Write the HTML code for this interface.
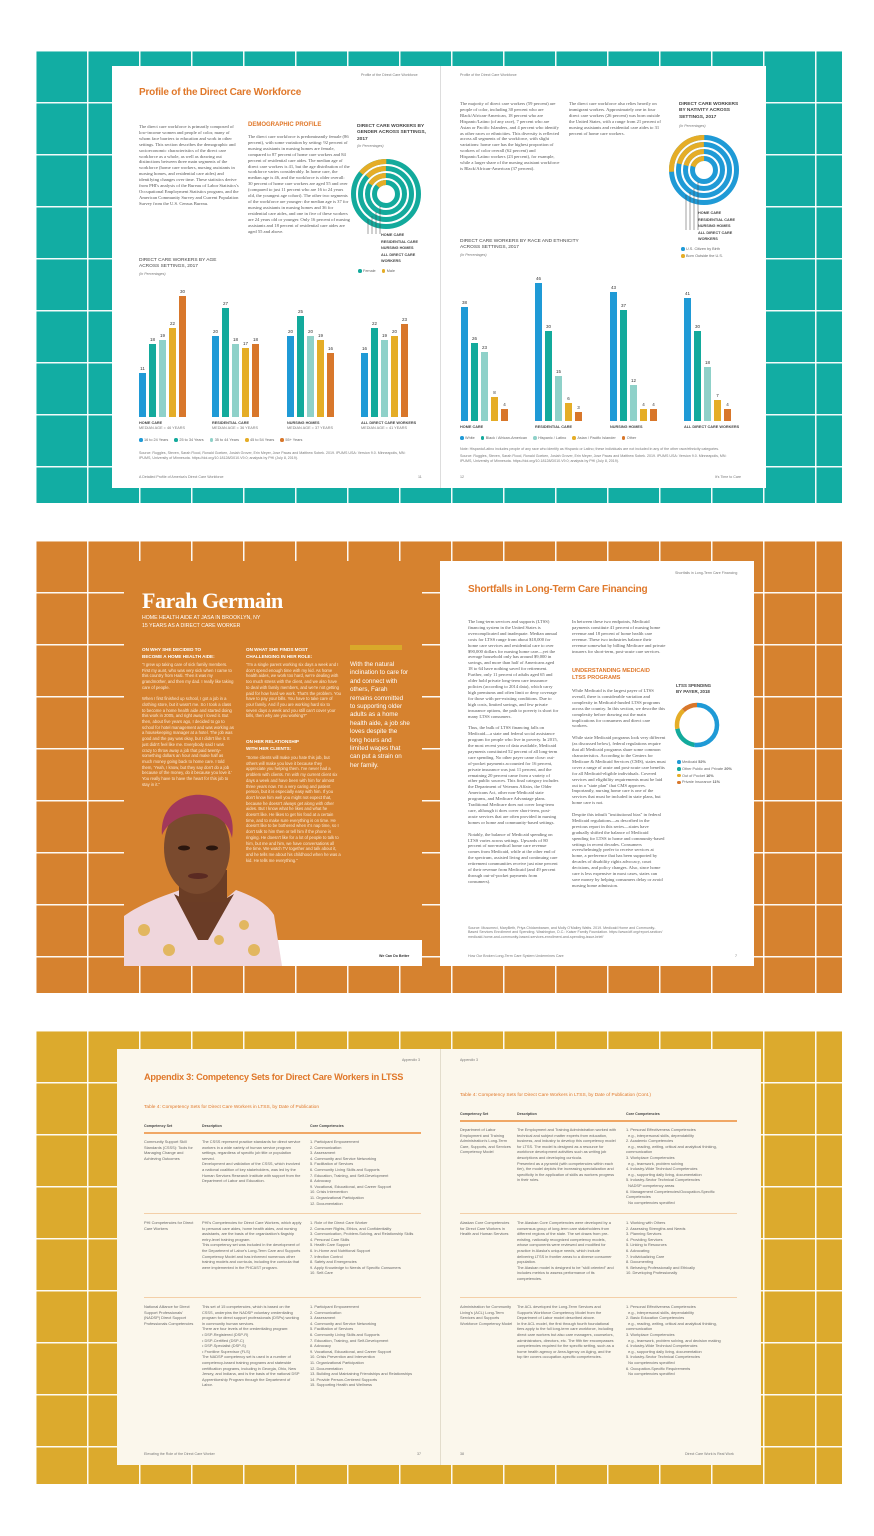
<!DOCTYPE html>
<html><head><meta charset="utf-8">
<style>
*{margin:0;padding:0;box-sizing:border-box}
body{width:874px;height:1536px;background:#fff;position:relative;overflow:hidden;font-family:"Liberation Sans",sans-serif}
.a{position:absolute}
.grid{position:absolute;background-image:linear-gradient(to right,rgba(255,255,255,.95) 0 1.5px,transparent 1.5px),linear-gradient(to bottom,rgba(255,255,255,.95) 0 1.5px,transparent 1.5px);background-size:52px 52px;background-position:-1px -1px}
.t{position:absolute;font:4.6px/5.9px "Liberation Serif",serif;color:#555;overflow:hidden;text-align:left}
.s{position:absolute;font:4.2px/5.9px "Liberation Sans",sans-serif;color:#666;overflow:hidden}
.p3 .s{font-size:3.9px;line-height:5.6px}
.w{color:#fbe9d6}
.h{position:absolute;font:bold 4.8px/6.4px "Liberation Sans",sans-serif;color:#444;text-transform:uppercase}
.tiny{position:absolute;font:3.6px/4px "Liberation Sans",sans-serif;color:#777;white-space:nowrap}
.ttl{position:absolute;font:bold 10px/12px "Liberation Sans",sans-serif;color:#e0782a;white-space:nowrap;letter-spacing:-.2px}
.b{position:absolute;width:7px}
.b i{position:absolute;top:-7px;left:-2px;width:11px;text-align:center;font:4.5px/5px "Liberation Sans",sans-serif;color:#333;font-style:normal}
.c1{background:#1f9ad6}.c2{background:#13aa9c}.c3{background:#8fd1c9}.c4{background:#e5ad27}.c5{background:#d8772b}
.lg{position:absolute;font:3.8px/5px "Liberation Sans",sans-serif;color:#666;white-space:nowrap}
.lg b{display:inline-block;width:3.5px;height:3.5px;border-radius:50%;margin:0 1.5px 0 5px;vertical-align:middle}
.gl{position:absolute;font:bold 3.8px/5px "Liberation Sans",sans-serif;color:#444;white-space:nowrap}
.gl span{font-weight:normal;display:block;color:#777}
.rule{position:absolute;height:2px;background:#f0a765}
.sep{position:absolute;height:1px;background:#f3cfa8}
</style></head><body>

<!-- PANEL 1 teal -->
<div class="grid" style="left:36px;top:51px;width:806px;height:452px;background-color:#12ada3"></div>
<div class="a" style="left:112px;top:66px;width:654px;height:422px;background:#fff"></div>
<div class="a" style="left:440px;top:66px;width:1px;height:422px;background:#ddd"></div>

<div class="tiny" style="left:361px;top:73px">Profile of the Direct Care Workforce</div>
<div class="tiny" style="left:460px;top:73px">Profile of the Direct Care Workforce</div>
<div class="ttl" style="left:139px;top:87px">Profile of the Direct Care Workforce</div>

<div class="t" style="left:139px;top:124px;width:100px;height:110px">The direct care workforce is primarily composed of low-income women and people of color, many of whom face barriers to education and work in other settings. This section describes the demographic and socioeconomic characteristics of the direct care workforce as a whole, as well as drawing out distinctions between three main segments of the workforce (home care workers, nursing assistants in nursing homes, and residential care aides) and identifying changes over time. These statistics derive from PHI's analysis of the Bureau of Labor Statistics's Occupational Employment Statistics program, and the American Community Survey and Current Population Survey from the U.S. Census Bureau.</div>
<div class="a" style="left:248px;top:122px;font:bold 6px/7px 'Liberation Sans',sans-serif;color:#e0782a">DEMOGRAPHIC PROFILE</div>
<div class="t" style="left:248px;top:134px;width:102px;height:135px">The direct care workforce is predominantly female (86 percent), with some variation by setting: 92 percent of nursing assistants in nursing homes are female, compared to 87 percent of home care workers and 84 percent of residential care aides. The median age of direct care workers is 41, but the age distribution of the workforce varies considerably. In home care, the median age is 46, and the workforce is older overall: 30 percent of home care workers are aged 55 and over (compared to just 11 percent who are 16 to 24 years old, the youngest age cohort). The other two segments of the workforce are younger: the median age is 37 for nursing assistants in nursing homes and 36 for residential care aides, and one in five of these workers are 24 years old or younger. Only 16 percent of nursing assistants and 18 percent of residential care aides are aged 55 and above.</div>
<div class="h" style="left:357px;top:124px;width:70px">Direct care workers by gender across settings, 2017</div>
<div class="tiny" style="left:357px;top:144px;font-style:italic">(In Percentages)</div>
<svg class="a" style="left:346px;top:154px" width="80" height="80" viewBox="0 0 80 80">
<g fill="none" stroke-width="5">
<circle cx="40" cy="40" r="32.5" stroke="#13aa9c"/><circle cx="40" cy="40" r="32.5" stroke="#e5ad27" stroke-dasharray="28.6 300" transform="rotate(-140 40 40)"/>
<circle cx="40" cy="40" r="25.5" stroke="#13aa9c"/><circle cx="40" cy="40" r="25.5" stroke="#e5ad27" stroke-dasharray="20.8 300" transform="rotate(-137 40 40)"/>
<circle cx="40" cy="40" r="18.5" stroke="#13aa9c"/><circle cx="40" cy="40" r="18.5" stroke="#e5ad27" stroke-dasharray="18.6 300" transform="rotate(-148 40 40)"/>
<circle cx="40" cy="40" r="11.5" stroke="#13aa9c"/><circle cx="40" cy="40" r="11.5" stroke="#e5ad27" stroke-dasharray="9.4 300" transform="rotate(-137 40 40)"/>
</g>
<g stroke="#444" stroke-width=".5" fill="none"><path d="M22 65V80M26 62V80M30 58V80M34 52V80"/></g>
</svg>
<div class="gl" style="left:381px;top:232px;line-height:6.5px">HOME CARE<br>RESIDENTIAL CARE<br>NURSING HOMES<br>ALL DIRECT CARE<br>WORKERS</div>
<div class="lg" style="left:353px;top:269px"><b class="c2"></b>Female <b class="c4"></b>Male</div>

<div class="h" style="left:139px;top:258px;font-weight:normal">Direct care workers by age<br>across settings, 2017</div>
<div class="tiny" style="left:139px;top:272px;font-style:italic">(In Percentages)</div>

<div class="b c1" style="left:139px;top:373px;height:44px"><i>11</i></div>
<div class="b c2" style="left:149px;top:344px;height:73px"><i>18</i></div>
<div class="b c3" style="left:159px;top:340px;height:77px"><i>19</i></div>
<div class="b c4" style="left:169px;top:328px;height:89px"><i>22</i></div>
<div class="b c5" style="left:179px;top:296px;height:121px"><i>30</i></div>
<div class="b c1" style="left:212px;top:336px;height:81px"><i>20</i></div>
<div class="b c2" style="left:222px;top:308px;height:109px"><i>27</i></div>
<div class="b c3" style="left:232px;top:344px;height:73px"><i>18</i></div>
<div class="b c4" style="left:242px;top:348px;height:69px"><i>17</i></div>
<div class="b c5" style="left:252px;top:344px;height:73px"><i>18</i></div>
<div class="b c1" style="left:287px;top:336px;height:81px"><i>20</i></div>
<div class="b c2" style="left:297px;top:316px;height:101px"><i>25</i></div>
<div class="b c3" style="left:307px;top:336px;height:81px"><i>20</i></div>
<div class="b c4" style="left:317px;top:340px;height:77px"><i>19</i></div>
<div class="b c5" style="left:327px;top:353px;height:64px"><i>16</i></div>
<div class="b c1" style="left:361px;top:353px;height:64px"><i>16</i></div>
<div class="b c2" style="left:371px;top:328px;height:89px"><i>22</i></div>
<div class="b c3" style="left:381px;top:340px;height:77px"><i>19</i></div>
<div class="b c4" style="left:391px;top:336px;height:81px"><i>20</i></div>
<div class="b c5" style="left:401px;top:324px;height:93px"><i>23</i></div>
<div class="gl" style="left:139px;top:421px">HOME CARE<span>MEDIAN AGE = 46 YEARS</span></div>
<div class="gl" style="left:212px;top:421px">RESIDENTIAL CARE<span>MEDIAN AGE = 36 YEARS</span></div>
<div class="gl" style="left:287px;top:421px">NURSING HOMES<span>MEDIAN AGE = 37 YEARS</span></div>
<div class="gl" style="left:361px;top:421px">ALL DIRECT CARE WORKERS<span>MEDIAN AGE = 41 YEARS</span></div>
<div class="lg" style="left:134px;top:438px"><b class="c1"></b>16 to 24 Years <b class="c2"></b>25 to 34 Years <b class="c3"></b>35 to 44 Years <b class="c4"></b>45 to 54 Years <b class="c5"></b>55+ Years</div>
<div class="tiny" style="left:139px;top:451px;line-height:4.6px">Source: Ruggles, Steven, Sarah Flood, Ronald Goeken, Josiah Grover, Erin Meyer, Jose Pacas and Matthew Sobek. 2019. IPUMS USA: Version 9.0. Minneapolis, MN:<br>IPUMS, University of Minnesota. https://doi.org/10.18128/D010.V9.0; analysis by PHI (July 8, 2019).</div>
<div class="tiny" style="left:139px;top:475px">A Detailed Profile of America's Direct Care Workforce</div>
<div class="tiny" style="left:418px;top:475px">11</div>

<div class="t" style="left:460px;top:101px;width:100px;height:88px">The majority of direct care workers (59 percent) are people of color, including 30 percent who are Black/African-American, 18 percent who are Hispanic/Latino (of any race), 7 percent who are Asian or Pacific Islanders, and 4 percent who identify as other races or ethnicities. This diversity is reflected across all segments of the workforce, with slight variations: home care has the highest proportion of workers of color overall (62 percent) and Hispanic/Latino workers (23 percent), for example, while a larger share of the nursing assistant workforce is Black/African-American (37 percent).</div>
<div class="t" style="left:569px;top:101px;width:92px;height:48px">The direct care workforce also relies heavily on immigrant workers. Approximately one in four direct care workers (26 percent) was born outside the United States, with a range from 21 percent of nursing assistants and residential care aides to 31 percent of home care workers.</div>
<div class="h" style="left:679px;top:102px;width:65px">Direct care workers by nativity across settings, 2017</div>
<div class="tiny" style="left:679px;top:124px;font-style:italic">(In Percentages)</div>
<svg class="a" style="left:664px;top:130px" width="80" height="100" viewBox="0 0 80 100">
<g fill="none" stroke-width="5">
<circle cx="40" cy="40" r="32.5" stroke="#1f9ad6"/><circle cx="40" cy="40" r="32.5" stroke="#e5ad27" stroke-dasharray="53 300" transform="rotate(-183 40 40)"/>
<circle cx="40" cy="40" r="25.5" stroke="#1f9ad6"/><circle cx="40" cy="40" r="25.5" stroke="#e5ad27" stroke-dasharray="33.6 300" transform="rotate(-166 40 40)"/>
<circle cx="40" cy="40" r="18.5" stroke="#1f9ad6"/><circle cx="40" cy="40" r="18.5" stroke="#e5ad27" stroke-dasharray="24.4 300" transform="rotate(-166 40 40)"/>
<circle cx="40" cy="40" r="11.5" stroke="#1f9ad6"/><circle cx="40" cy="40" r="11.5" stroke="#e5ad27" stroke-dasharray="14.4 300" transform="rotate(-162 40 40)"/>
</g>
<g stroke="#444" stroke-width=".5" fill="none"><path d="M22 65V100M26 62V100M30 58V100M34 52V100"/></g>
</svg>
<div class="gl" style="left:698px;top:210px;line-height:6.5px">HOME CARE<br>RESIDENTIAL CARE<br>NURSING HOMES<br>ALL DIRECT CARE<br>WORKERS</div>
<div class="lg" style="left:676px;top:246px;line-height:7px"><b class="c1"></b>U.S. Citizen by Birth<br><b class="c4"></b>Born Outside the U.S.</div>
<div class="h" style="left:460px;top:239px;font-weight:normal">Direct care workers by race and ethnicity<br>across settings, 2017</div>
<div class="tiny" style="left:460px;top:253px;font-style:italic">(In Percentages)</div>

<div class="b c1" style="left:461px;top:307px;height:114px"><i>38</i></div>
<div class="b c2" style="left:471px;top:343px;height:78px"><i>26</i></div>
<div class="b c3" style="left:481px;top:352px;height:69px"><i>23</i></div>
<div class="b c4" style="left:491px;top:397px;height:24px"><i>8</i></div>
<div class="b c5" style="left:501px;top:409px;height:12px"><i>4</i></div>
<div class="b c1" style="left:535px;top:283px;height:138px"><i>46</i></div>
<div class="b c2" style="left:545px;top:331px;height:90px"><i>30</i></div>
<div class="b c3" style="left:555px;top:376px;height:45px"><i>15</i></div>
<div class="b c4" style="left:565px;top:403px;height:18px"><i>6</i></div>
<div class="b c5" style="left:575px;top:412px;height:9px"><i>3</i></div>
<div class="b c1" style="left:610px;top:292px;height:129px"><i>43</i></div>
<div class="b c2" style="left:620px;top:310px;height:111px"><i>37</i></div>
<div class="b c3" style="left:630px;top:385px;height:36px"><i>12</i></div>
<div class="b c4" style="left:640px;top:409px;height:12px"><i>4</i></div>
<div class="b c5" style="left:650px;top:409px;height:12px"><i>4</i></div>
<div class="b c1" style="left:684px;top:298px;height:123px"><i>41</i></div>
<div class="b c2" style="left:694px;top:331px;height:90px"><i>30</i></div>
<div class="b c3" style="left:704px;top:367px;height:54px"><i>18</i></div>
<div class="b c4" style="left:714px;top:400px;height:21px"><i>7</i></div>
<div class="b c5" style="left:724px;top:409px;height:12px"><i>4</i></div>
<div class="gl" style="left:460px;top:425px">HOME CARE</div>
<div class="gl" style="left:535px;top:425px">RESIDENTIAL CARE</div>
<div class="gl" style="left:610px;top:425px">NURSING HOMES</div>
<div class="gl" style="left:684px;top:425px">ALL DIRECT CARE WORKERS</div>
<div class="lg" style="left:455px;top:436px"><b class="c1"></b>White <b class="c2"></b>Black / African-American <b class="c3"></b>Hispanic / Latino <b class="c4"></b>Asian / Pacific Islander <b class="c5"></b>Other</div>
<div class="tiny" style="left:460px;top:447px">Note: Hispanic/Latino includes people of any race who identify as Hispanic or Latino; these individuals are not included in any of the other race/ethnicity categories.</div>
<div class="tiny" style="left:460px;top:454px;line-height:4.6px">Source: Ruggles, Steven, Sarah Flood, Ronald Goeken, Josiah Grover, Erin Meyer, Jose Pacas and Matthew Sobek. 2019. IPUMS USA: Version 9.0. Minneapolis, MN:<br>IPUMS, University of Minnesota. https://doi.org/10.18128/D010.V9.0; analysis by PHI (July 8, 2019).</div>
<div class="tiny" style="left:460px;top:475px">12</div>
<div class="tiny" style="left:715px;top:475px">It's Time to Care</div>

<!-- PANEL 2 orange -->
<div class="grid" style="left:36px;top:541px;width:806px;height:452px;background-color:#d6822f"></div>
<div class="a" style="left:124px;top:561px;width:298px;height:405px;background:#d6822f"></div>
<div class="a" style="left:273px;top:940px;width:149px;height:26px;background:#fff"></div>
<div class="a" style="left:440px;top:561px;width:314px;height:405px;background:#fff"></div>

<div class="a" style="left:142px;top:588px;font:bold 22px/26px 'Liberation Serif',serif;color:#fff;letter-spacing:-.5px">Farah Germain</div>
<div class="a" style="left:142px;top:614px;font:5.2px/8px 'Liberation Sans',sans-serif;color:#fff">HOME HEALTH AIDE AT JASA IN BROOKLYN, NY<br>15 YEARS AS A DIRECT CARE WORKER</div>
<div class="a" style="left:142px;top:646px;font:bold 4.6px/7px 'Liberation Sans',sans-serif;color:#fff">ON WHY SHE DECIDED TO<br>BECOME A HOME HEALTH AIDE:</div>
<div class="s w" style="left:142px;top:662px;width:92px;height:135px;line-height:5.7px">"I grew up taking care of sick family members. First my aunt, who was very sick when I came to this country from Haiti. Then it was my grandmother, and then my dad. I really like taking care of people.<br><br>When I first finished up school, I got a job in a clothing store, but it wasn't me. So I took a class to become a home health aide and started doing this work in 2005, and right away I loved it. But then, about five years ago, I decided to go to school for hotel management and was working as a housekeeping manager at a hotel. The job was good and the pay was okay, but I didn't like it. It just didn't feel like me. Everybody said I was crazy to throw away a job that paid twenty-something dollars an hour and make half as much money going back to home care. I told them, 'Yeah, I know, but they say don't do a job because of the money, do it because you love it.' You really have to have the heart for this job to stay in it."</div>
<div class="a" style="left:246px;top:646px;font:bold 4.6px/7px 'Liberation Sans',sans-serif;color:#fff">ON WHAT SHE FINDS MOST<br>CHALLENGING IN HER ROLE:</div>
<div class="s w" style="left:246px;top:662px;width:95px;height:68px;line-height:5.7px">"I'm a single parent working six days a week and I don't spend enough time with my kid. As home health aides, we work too hard, we're dealing with too much stress with the client, and we also have to deal with family members, and we're not getting paid for how hard we work. That's the problem. You have to pay your bills. You have to take care of your family. And if you are working hard six to seven days a week and you still can't cover your bills, then why are you working?"</div>
<div class="a" style="left:246px;top:738px;font:bold 4.6px/7px 'Liberation Sans',sans-serif;color:#fff">ON HER RELATIONSHIP<br>WITH HER CLIENTS:</div>
<div class="s w" style="left:246px;top:755px;width:95px;height:124px;line-height:5.7px">"Some clients will make you hate this job, but others will make you love it because they appreciate you helping them. I've never had a problem with clients. I'm with my current client six days a week and have been with him for almost three years now. I'm a very caring and patient person, but it is especially easy with him. If you don't know him well you might not expect that, because he doesn't always get along with other aides. But I know what he likes and what he doesn't like. He likes to get his food at a certain time, and to make sure everything is on time. He doesn't like to be bothered when it's nap time, so I don't talk to him then or tell him if the phone is ringing. He doesn't like for a lot of people to talk to him, but me and him, we have conversations all the time. We watch TV together and talk about it, and he tells me about his childhood when he was a kid. He tells me everything."</div>
<div class="a" style="left:350px;top:645px;width:52px;height:5px;background:#d9a92a"></div>
<div class="a" style="left:350px;top:661px;width:60px;font:6.3px/8.4px 'Liberation Sans',sans-serif;color:#fff">With the natural inclination to care for and connect with others, Farah remains committed to supporting older adults as a home health aide, a job she loves despite the long hours and limited wages that can put a strain on her family.</div>

<!-- photo -->
<svg class="a" style="left:124px;top:790px" width="160" height="176" viewBox="0 0 160 176">
<path d="M0 126 C20 112 40 106 56 100 L70 112 L98 112 L112 100 C128 106 142 112 150 125 L158 176 L0 176 Z" fill="#efd6dc"/>
<path d="M50 104 L74 150 L84 150 L110 104 L96 112 L66 112Z" fill="#6a3c26"/>
<rect x="55" y="80" width="48" height="32" fill="#6b3d25"/>
<ellipse cx="73" cy="58" rx="33" ry="46" fill="#7a4a2e"/>
<path d="M38 45 C36 15 60 3 78 5 C100 6 112 24 108 48 C104 30 90 22 72 24 C56 25 44 32 38 45Z" fill="#a2385a"/>
<ellipse cx="60" cy="58" rx="6" ry="2.5" fill="#2a160e"/><ellipse cx="88" cy="58" rx="6" ry="2.5" fill="#2a160e"/>
<ellipse cx="74" cy="86" rx="10" ry="3" fill="#5a2a22"/>
<g fill="#e2b760"><circle cx="20" cy="140" r="6"/><circle cx="45" cy="160" r="6"/><circle cx="120" cy="135" r="5"/><circle cx="130" cy="160" r="6"/><circle cx="95" cy="150" r="5"/></g>
</svg>
<div class="tiny" style="left:379px;top:954px;font-weight:bold;color:#333">We Can Do Better</div>

<div class="tiny" style="left:675px;top:571px">Shortfalls in Long-Term Care Financing</div>
<div class="ttl" style="left:468px;top:584px">Shortfalls in Long-Term Care Financing</div>
<div class="t" style="left:468px;top:619px;width:91px;height:293px">The long-term services and supports (LTSS) financing system in the United States is overcomplicated and inadequate. Median annual costs for LTSS range from about $18,000 for home care services and residential care to over $90,000 dollars for nursing home care—yet the average household only has around $9,000 in savings, and more than half of Americans aged 18 to 64 have nothing saved for retirement. Further, only 11 percent of adults aged 65 and older hold private long-term care insurance policies (according to 2014 data), which carry high premiums and often limit or deny coverage for those with pre-existing conditions. Due to high costs, limited savings, and few private insurance options, the path to poverty is short for many LTSS consumers.<br><br>Thus, the bulk of LTSS financing falls on Medicaid—a state and federal social assistance program for people who live in poverty. In 2015, the most recent year of data available, Medicaid payments constituted 52 percent of all long-term care spending. No other payer came close: out-of-pocket payments accounted for 16 percent, private insurance was just 11 percent, and the remaining 20 percent came from a variety of other public sources. This final category includes the Department of Veterans Affairs, the Older Americans Act, other non-Medicaid state programs, and Medicare Advantage plans. Traditional Medicare does not cover long-term care, although it does cover short-term, post-acute services that are often provided in nursing homes or home and community-based settings.<br><br>Notably, the balance of Medicaid spending on LTSS varies across settings. Upwards of 80 percent of non-medical home care revenue comes from Medicaid, while at the other end of the spectrum, assisted living and continuing care retirement communities receive just nine percent of their revenue from Medicaid (and 49 percent through out-of-pocket payments from consumers).</div>
<div class="t" style="left:572px;top:619px;width:94px;height:40px">In between these two endpoints, Medicaid payments constitute 41 percent of nursing home revenue and 18 percent of home health care revenue. These two industries balance their revenue somewhat by billing Medicare and private insurers for short-term, post-acute care services.</div>
<div class="a" style="left:572px;top:668px;font:bold 5.6px/7px 'Liberation Sans',sans-serif;color:#e0782a">UNDERSTANDING MEDICAID<br>LTSS PROGRAMS</div>
<div class="t" style="left:572px;top:688px;width:94px;height:220px">While Medicaid is the largest payer of LTSS overall, there is considerable variation and complexity in Medicaid-funded LTSS programs across the country. In this section, we describe this complexity before drawing out the main implications for consumers and direct care workers.<br><br>While state Medicaid programs look very different (as discussed below), federal regulations require that all Medicaid programs share some common characteristics. According to the Centers for Medicare &amp; Medicaid Services (CMS), states must cover a range of acute and post-acute care benefits for all Medicaid-eligible individuals. Covered services and eligibility requirements must be laid out in a "state plan" that CMS approves. Importantly, nursing home care is one of the services that must be included in state plans, but home care is not.<br><br>Despite this inbuilt "institutional bias" in federal Medicaid regulations—as described in the previous report in this series—states have gradually shifted the balance of Medicaid spending for LTSS to home and community-based settings in recent decades. Consumers overwhelmingly prefer to receive services at home, a preference that has been supported by decades of disability rights advocacy, court decisions, and policy changes. Also, since home care is less expensive in most cases, states can save money by helping consumers delay or avoid nursing home admission.</div>
<div class="h" style="left:676px;top:683px;font-size:4.4px;line-height:6px">LTSS SPENDING<br>BY PAYER, 2018</div>
<svg class="a" style="left:673px;top:701px" width="48" height="48" viewBox="0 0 48 48">
<g fill="none" stroke-width="4.5" transform="rotate(-90 24 24)">
<circle cx="24" cy="24" r="20" stroke="#1f9ad6" stroke-dasharray="65.3 200"/>
<circle cx="24" cy="24" r="20" stroke="#13aa9c" stroke-dasharray="0 65.3 25.1 200"/>
<circle cx="24" cy="24" r="20" stroke="#e5ad27" stroke-dasharray="0 90.4 20.1 200"/>
<circle cx="24" cy="24" r="20" stroke="#d8772b" stroke-dasharray="0 110.5 15.2 200"/>
</g></svg>
<div class="lg" style="left:672px;top:759px;line-height:6.8px"><b class="c1"></b>Medicaid <strong>52%</strong><br><b class="c2"></b>Other Public and Private <strong>20%</strong><br><b class="c4"></b>Out of Pocket <strong>16%</strong><br><b class="c5"></b>Private Insurance <strong>11%</strong></div>
<div class="tiny" style="left:468px;top:926px;line-height:4.4px">Source: Musumeci, MaryBeth, Priya Chidambaram, and Molly O'Malley Watts. 2019. Medicaid Home and Community-<br>Based Services Enrollment and Spending. Washington, D.C.: Kaiser Family Foundation. https://www.kff.org/report-section/<br>medicaid-home-and-community-based-services-enrollment-and-spending-issue-brief/</div>
<div class="tiny" style="left:468px;top:954px">How Our Broken Long-Term Care System Undermines Care</div>
<div class="tiny" style="left:735px;top:954px">7</div>

<!-- PANEL 3 gold -->
<div class="p3">
<div class="grid" style="left:36px;top:1031px;width:806px;height:453px;background-color:#dcaa2d"></div>
<div class="a" style="left:117px;top:1049px;width:644px;height:416px;background:#fbf7ec"></div>
<div class="a" style="left:440px;top:1049px;width:1px;height:416px;background:#e3ddcc"></div>
<div class="tiny" style="left:402px;top:1058px">Appendix 3</div>
<div class="tiny" style="left:460px;top:1058px">Appendix 3</div>
<div class="ttl" style="left:144px;top:1071px;font-size:9.2px;letter-spacing:-.25px">Appendix 3: Competency Sets for Direct Care Workers in LTSS</div>
<div class="a" style="left:144px;top:1105px;font:4.8px/6px 'Liberation Sans',sans-serif;color:#e0782a">Table 4: Competency Sets for Direct Care Workers in LTSS, by Date of Publication</div>
<div class="tiny" style="left:144px;top:1124px;font-weight:bold;color:#444">Competency Set</div>
<div class="tiny" style="left:202px;top:1124px;font-weight:bold;color:#444">Description</div>
<div class="tiny" style="left:310px;top:1124px;font-weight:bold;color:#444">Core Competencies</div>
<div class="rule" style="left:144px;top:1132px;width:277px"></div>
<div class="s" style="left:144px;top:1139px;width:52px;height:40px">Community Support Skill Standards (CSSS): Tools for Managing Change and Achieving Outcomes</div>
<div class="s" style="left:202px;top:1139px;width:100px;height:68px">The CSSS represent practice standards for direct service workers in a wide variety of human service program settings, regardless of specific job title or population served.<br>Development and validation of the CSSS, which involved a national coalition of key stakeholders, was led by the Human Services Research Institute with support from the Department of Labor and Education.</div>
<div class="s" style="left:310px;top:1139px;width:110px;height:70px">1. Participant Empowerment<br>2. Communication<br>3. Assessment<br>4. Community and Service Networking<br>5. Facilitation of Services<br>6. Community Living Skills and Supports<br>7. Education, Training, and Self-Development<br>8. Advocacy<br>9. Vocational, Educational, and Career Support<br>10. Crisis Intervention<br>11. Organizational Participation<br>12. Documentation</div>
<div class="sep" style="left:144px;top:1213px;width:277px"></div>
<div class="s" style="left:144px;top:1220px;width:52px;height:14px">PHI Competencies for Direct Care Workers</div>
<div class="s" style="left:202px;top:1220px;width:100px;height:72px">PHI's Competencies for Direct Care Workers, which apply to personal care aides, home health aides, and nursing assistants, are the basis of the organization's flagship entry-level training program.<br>This competency set was included in the development of the Department of Labor's Long-Term Care and Supports Competency Model and has informed numerous other training models and curricula, including the curricula that were implemented in the PHCAST program.</div>
<div class="s" style="left:310px;top:1220px;width:110px;height:72px">1. Role of the Direct Care Worker<br>2. Consumer Rights, Ethics, and Confidentiality<br>3. Communication, Problem-Solving, and Relationship Skills<br>4. Personal Care Skills<br>5. Health Care Support<br>6. In-Home and Nutritional Support<br>7. Infection Control<br>8. Safety and Emergencies<br>9. Apply Knowledge to Needs of Specific Consumers<br>10. Self-Care</div>
<div class="sep" style="left:144px;top:1297px;width:277px"></div>
<div class="s" style="left:144px;top:1304px;width:52px;height:40px">National Alliance for Direct Support Professionals' (NADSP) Direct Support Professionals Competencies</div>
<div class="s" style="left:202px;top:1304px;width:100px;height:110px">This set of 15 competencies, which is based on the CSSS, underpins the NADSP voluntary credentialing program for direct support professionals (DSPs) working in community human services.<br>There are four levels of the credentialing program:<br>• DSP-Registered (DSP-R)<br>• DSP-Certified (DSP-C)<br>• DSP-Specialist (DSP-S)<br>• Frontline Supervisor (FLS)<br>The NADSP competency set is used in a number of competency-based training programs and statewide certification programs, including in Georgia, Ohio, New Jersey, and Indiana, and is the basis of the national DSP Apprenticeship Program through the Department of Labor.</div>
<div class="s" style="left:310px;top:1304px;width:110px;height:88px">1. Participant Empowerment<br>2. Communication<br>3. Assessment<br>4. Community and Service Networking<br>5. Facilitation of Services<br>6. Community Living Skills and Supports<br>7. Education, Training, and Self-Development<br>8. Advocacy<br>9. Vocational, Educational, and Career Support<br>10. Crisis Prevention and Intervention<br>11. Organizational Participation<br>12. Documentation<br>13. Building and Maintaining Friendships and Relationships<br>14. Provide Person-Centered Supports<br>15. Supporting Health and Wellness</div>
<div class="tiny" style="left:144px;top:1452px">Elevating the Role of the Direct Care Worker</div>
<div class="tiny" style="left:417px;top:1452px">37</div>

<div class="a" style="left:460px;top:1093px;font:4.8px/6px 'Liberation Sans',sans-serif;color:#e0782a">Table 4: Competency Sets for Direct Care Workers in LTSS, by Date of Publication (Cont.)</div>
<div class="tiny" style="left:460px;top:1112px;font-weight:bold;color:#444">Competency Set</div>
<div class="tiny" style="left:517px;top:1112px;font-weight:bold;color:#444">Description</div>
<div class="tiny" style="left:626px;top:1112px;font-weight:bold;color:#444">Core Competencies</div>
<div class="rule" style="left:460px;top:1120px;width:277px"></div>
<div class="s" style="left:460px;top:1127px;width:54px;height:40px">Department of Labor Employment and Training Administration's Long-Term Care, Supports, and Services Competency Model</div>
<div class="s" style="left:517px;top:1127px;width:100px;height:80px">The Employment and Training Administration worked with technical and subject matter experts from education, business, and industry to develop this competency model for LTSS. The model is designed as a resource for workforce development activities such as writing job descriptions and developing curricula.<br>Presented as a pyramid (with competencies within each tier), the model depicts the increasing specialization and specificity in the application of skills as workers progress in their roles.</div>
<div class="s" style="left:626px;top:1127px;width:110px;height:80px">1. Personal Effectiveness Competencies<br>&nbsp;&nbsp;e.g., interpersonal skills, dependability<br>2. Academic Competencies<br>&nbsp;&nbsp;e.g., reading, writing, critical and analytical thinking, communication<br>3. Workplace Competencies<br>&nbsp;&nbsp;e.g., teamwork, problem solving<br>4. Industry-Wide Technical Competencies<br>&nbsp;&nbsp;e.g., supporting daily living, documentation<br>5. Industry-Sector Technical Competencies<br>&nbsp;&nbsp;NADSP competency areas<br>6. Management Competencies/Occupation-Specific Competencies<br>&nbsp;&nbsp;No competencies specified</div>
<div class="sep" style="left:460px;top:1213px;width:277px"></div>
<div class="s" style="left:460px;top:1220px;width:54px;height:30px">Alaskan Core Competencies for Direct Care Workers in Health and Human Services</div>
<div class="s" style="left:517px;top:1220px;width:100px;height:70px">The Alaskan Core Competencies were developed by a consensus group of long-term care stakeholders from different regions of the state. The set draws from pre-existing, nationally recognized competency models, whose components were reviewed and modified for practice in Alaska's unique needs, which include delivering LTSS in frontier areas to a diverse consumer population.<br>The Alaskan model is designed to be "skill oriented" and includes metrics to assess performance of its competencies.</div>
<div class="s" style="left:626px;top:1220px;width:110px;height:62px">1. Working with Others<br>2. Assessing Strengths and Needs<br>3. Planning Services<br>4. Providing Services<br>5. Linking to Resources<br>6. Advocating<br>7. Individualizing Care<br>8. Documenting<br>9. Behaving Professionally and Ethically<br>10. Developing Professionally</div>
<div class="sep" style="left:460px;top:1297px;width:277px"></div>
<div class="s" style="left:460px;top:1304px;width:54px;height:36px">Administration for Community Living's (ACL) Long-Term Services and Supports Workforce Competency Model</div>
<div class="s" style="left:517px;top:1304px;width:100px;height:80px">The ACL developed the Long-Term Services and Supports Workforce Competency Model from the Department of Labor model described above.<br>In the ACL model, the first through fourth foundational tiers apply to the full long-term care workforce, including direct care workers but also care managers, counselors, administrators, directors, etc. The fifth tier encompasses competencies required for the specific setting, such as a home health agency or Area Agency on Aging, and the top tier covers occupation-specific competencies.</div>
<div class="s" style="left:626px;top:1304px;width:110px;height:80px">1. Personal Effectiveness Competencies<br>&nbsp;&nbsp;e.g., interpersonal skills, dependability<br>2. Basic Education Competencies<br>&nbsp;&nbsp;e.g., reading, writing, critical and analytical thinking, communication<br>3. Workplace Competencies<br>&nbsp;&nbsp;e.g., teamwork, problem solving, and decision making<br>4. Industry-Wide Technical Competencies<br>&nbsp;&nbsp;e.g., supporting daily living, documentation<br>5. Industry-Sector Technical Competencies<br>&nbsp;&nbsp;No competencies specified<br>6. Occupation-Specific Requirements<br>&nbsp;&nbsp;No competencies specified</div>
<div class="tiny" style="left:460px;top:1452px">38</div>
<div class="tiny" style="left:685px;top:1452px">Direct Care Work is Real Work</div>
</div>
</body></html>
